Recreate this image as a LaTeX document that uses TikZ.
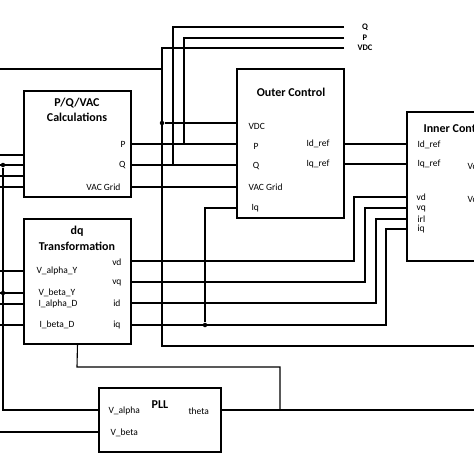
\documentclass[tikz,border=0pt]{standalone}
\usepackage{fontspec}
\setmainfont{Carlito}
\begin{document}
\begin{tikzpicture}[x=1pt,y=-1pt,line width=1.1pt,
  blk/.style={draw,line width=1.1pt,anchor=north west,inner sep=0pt,outer sep=0pt},
  ttl/.style={font=\fontsize{12}{13}\selectfont\bfseries,inner sep=0pt},
  lbl/.style={font=\fontsize{9.5}{10}\selectfont,inner sep=0pt},
  top/.style={font=\fontsize{8.5}{9}\selectfont\bfseries,inner sep=0pt},
  dot/.style={circle,fill,inner sep=0pt,minimum size=4.5pt}]
\useasboundingbox (0,0) rectangle (474,474);
\clip (0,0) rectangle (474,474);
% blocks
\node[blk,minimum width=107pt,minimum height=106pt] (pq) at (24,91) {};
\node[blk,minimum width=107pt,minimum height=149pt] (oc) at (237,69) {};
\node[blk,minimum width=80pt,minimum height=149pt] (ic) at (407,112) {};
\node[blk,minimum width=107pt,minimum height=125pt] (dq) at (24,219) {};
\node[blk,minimum width=122pt,minimum height=64pt] (pll) at (99,388) {};
% titles
\node[ttl] (tpq1) at (77,103) {P/Q/VAC};
\node[ttl] (tpq2) at (77,117) {Calculations};
\node[ttl] (toc) at (291,92) {Outer Control};
\node[ttl,anchor=west] (tic) at (423,128) {Inner Control};
\node[ttl] (tdq1) at (77,231) {dq};
\node[ttl] (tdq2) at (77,246) {Transformation};
\node[ttl] (tpll) at (160,405) {PLL};
% top labels
\node[top] (tq) at (365,27) {Q};
\node[top] (tp) at (365,38) {P};
\node[top] (tv) at (365,48) {VDC};
% P/Q/VAC ports
\node[lbl,anchor=east] (pqP) at (126,144) {P};
\node[lbl,anchor=east] (pqQ) at (126,165) {Q};
\node[lbl,anchor=east] (pqV) at (121,187) {VAC Grid};
% outer control ports
\node[lbl,anchor=west] (ocV) at (248,126) {VDC};
\node[lbl] (ocP) at (256,146) {P};
\node[lbl] (ocQ) at (256,166) {Q};
\node[lbl,anchor=west] (ocG) at (248,187) {VAC Grid};
\node[lbl,anchor=west] (ocI) at (251,208) {Iq};
\node[lbl,anchor=west] (ocD) at (306,144) {Id\_ref};
\node[lbl,anchor=west] (ocQr) at (306,164) {Iq\_ref};
% inner control ports
\node[lbl,anchor=west] (icD) at (417,145) {Id\_ref};
\node[lbl,anchor=west] (icQ) at (417,164) {Iq\_ref};
\node[lbl,anchor=west] (icvd) at (416,197) {vd};
\node[lbl,anchor=west] (icvq) at (416,209) {vq};
\node[lbl,anchor=west] (icid) at (417,219) {irl};
\node[lbl,anchor=west] (iciq) at (417,229) {iq};
\node[lbl,anchor=west] (icV1) at (467,167) {Vd\_ref};
\node[lbl,anchor=west] (icV2) at (467,200) {Vq\_ref};
% dq ports
\node[lbl,anchor=east] (dqvd) at (122,262) {vd};
\node[lbl,anchor=east] (dqvq) at (122,283) {vq};
\node[lbl,anchor=east] (dqid) at (121,303) {id};
\node[lbl,anchor=east] (dqiq) at (121,325) {iq};
\node[lbl,anchor=west] (dqa) at (36,271) {V\_alpha\_Y};
\node[lbl,anchor=west] (dqb) at (38,293) {V\_beta\_Y};
\node[lbl,anchor=west] (dqc) at (38,304) {I\_alpha\_D};
\node[lbl,anchor=west] (dqd) at (39,325) {I\_beta\_D};
% PLL ports
\node[lbl,anchor=west] (plla) at (108,411) {V\_alpha};
\node[lbl,anchor=west] (pllb) at (110,433) {V\_beta};
\node[lbl,anchor=west] (pllt) at (188,411) {theta};
% coordinates
\coordinate (vdcEnd) at (344,48);
\coordinate (qEnd) at (344,27);
\coordinate (pEnd) at (344,38);
\coordinate (inTop) at (0,69);
\coordinate (busR) at (474,346);
\coordinate (thR) at (474,410);
\foreach \n/\y in {a/155,b/165,c/176,d/187,e/271,f/293,g/304,h/325,k/432}
  \coordinate (in\n) at (0,\y);
% junction dots
\node[dot] (j1) at (162,123) {};
\node[dot] (j2) at (205,325) {};
\node[dot] (j3) at (3,165) {};
\node[dot] (j4) at (3,293) {};
% wires
\draw (inTop) -- (162,69);
\draw (vdcEnd) -- (162,48) -- (162,346) -- (busR);
\draw (qEnd) -- (173,27) -- (173,165);
\draw (pEnd) -- (184,38) -- (184,144);
\draw (j1) -- (oc.west |- j1);
\draw (pq.east |- 0,144) -- (oc.west |- 0,144);
\draw (pq.east |- 0,165) -- (oc.west |- 0,165);
\draw (pq.east |- 0,187) -- (oc.west |- 0,187);
\draw (oc.west |- 0,208) -- (205,208) -- (j2);
\draw (oc.east |- 0,144) -- (ic.west |- 0,144);
\draw (oc.east |- 0,164) -- (ic.west |- 0,164);
\draw (dq.east |- 0,261) -- (354,261) -- (354,197) -- (ic.west |- 0,197);
\draw (dq.east |- 0,282) -- (365,282) -- (365,208) -- (ic.west |- 0,208);
\draw (dq.east |- 0,303) -- (376,303) -- (376,219) -- (ic.west |- 0,219);
\draw (dq.east |- 0,325) -- (386,325) -- (386,229) -- (ic.west |- 0,229);
\draw (dq.south |- 0,344) -- (77,367) -- (280,367) -- (280,410);
\draw (pll.east |- 0,410) -- (thR);
\foreach \n in {a,b,c,d} \draw (in\n) -- (pq.west |- in\n);
\foreach \n in {e,f,g,h} \draw (in\n) -- (dq.west |- in\n);
\draw (j3) -- (3,410) -- (pll.west |- 0,410);
\draw (ink) -- (pll.west |- ink);
\end{tikzpicture}
\end{document}
